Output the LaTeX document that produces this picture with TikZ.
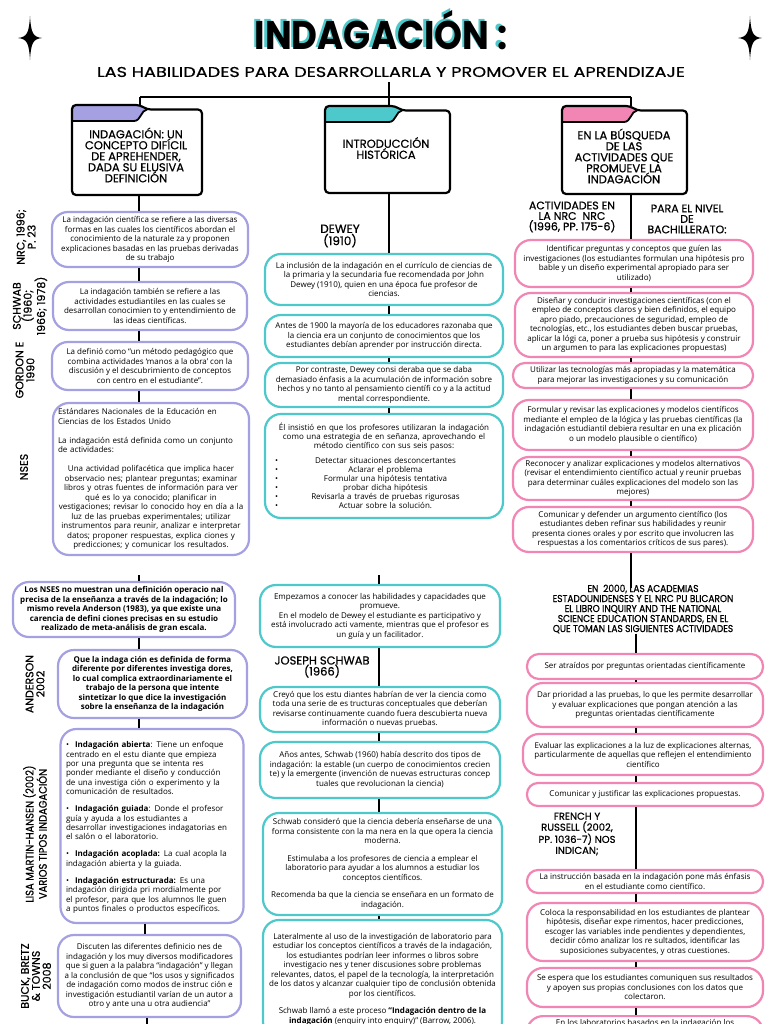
\documentclass[tikz,border=0pt]{standalone}
\usepackage{fontspec}
\usepackage{graphicx}
\setmainfont{Open Sans}
\newfontfamily\hfont[FakeBold=0.6]{Poppins}
\newfontfamily\hsfont[FakeBold=0.6,FakeStretch=0.9]{Poppins}
\newfontfamily\tfont[FakeStretch=0.89]{Poppins}
\usetikzlibrary{calc}
\definecolor{lpur}{RGB}{164,160,226}
\definecolor{tcyan}{RGB}{78,201,203}
\definecolor{ppink}{RGB}{241,134,181}
\newcommand\bodytxt{\fontsize{8}{9.5}\selectfont}
\newcommand\hdtxt{\hfont\fontsize{11}{11}\selectfont}
\newcommand\litem[1]{\par\hangindent=9pt\hangafter=1\noindent\makebox[9pt][l]{\textbullet}#1\par}
\newcommand\mstep[1]{\hbox to 226pt{\hspace{4pt}\textbullet\hfil #1\hfil\hspace{4pt}}}
% folder: x1 x2 ytop ybottom xtab colour
\newcommand\folderbox[6]{%
  \fill[#6] (#1,#3+16) [rounded corners=3pt]-- (#1,#3) -- (#5,#3) [sharp corners]-- (#5+7,#3+4.5)
     .. controls (#5+1,#3+5) and (#5+1,#3+16) .. (#5-6,#3+16) -- cycle;
  \draw[line width=2.2pt, rounded corners=4pt, line join=round] (#1,#4) -- (#1,#3) -- (#5,#3) -- (#5+7,#3+4.5) -- (#2,#3+4.5) -- (#2,#4) -- cycle;
  \draw[line width=1.8pt] (#1,#3+16) -- (#5-6,#3+16) .. controls (#5+1,#3+16) and (#5+1,#3+5) .. (#5+7,#3+4.5);
}
\begin{document}
\begin{tikzpicture}[x=1pt,y=-1pt,
  box/.style={fill=white, line width=2.2pt, rounded corners=16pt, align=center, inner sep=0pt, font=\bodytxt},
  lbox/.style={box, draw=lpur},
  mbox/.style={box, draw=tcyan},
  rbox/.style={box, draw=ppink},
  spine/.style={line width=2.6pt, black},
  hd/.style={font=\hdtxt, align=center, inner sep=0pt},
  vlab/.style={hd, rotate=90, font=\hfont\fontsize{11}{11}\selectfont},
  fhead/.style={hd, font=\hfont\fontsize{11.5}{11}\selectfont}]
\useasboundingbox (0,0) rectangle (768,1024);
\fill[white] (0,0) rectangle (768,1024);

% ---------- title ----------
\node[anchor=base, inner sep=0pt, text=tcyan] (titlesh) at (378.5,48) {\tfont\bfseries\fontsize{40}{40}\selectfont INDAGACIÓN :};
\node[anchor=base, inner sep=0pt] (title) at (381,50) {\tfont\bfseries\fontsize{40}{40}\selectfont INDAGACIÓN :};
\fill (30,16) .. controls (31,33) and (33,37) .. (42,38) .. controls (33,39) and (31,43) .. (30,60)
   .. controls (29,43) and (27,39) .. (18,38) .. controls (27,37) and (29,33) .. (30,16) -- cycle;
\fill (750,16) .. controls (751,33) and (753,37) .. (762,38) .. controls (753,39) and (751,43) .. (750,60)
   .. controls (749,43) and (747,39) .. (738,38) .. controls (747,37) and (749,33) .. (750,16) -- cycle;
\node[inner xsep=0pt, inner ysep=5pt] (sub) at (391,72) {\resizebox{588pt}{10pt}{\hfont LAS HABILIDADES PARA DESARROLLARLA Y PROMOVER EL APRENDIZAJE}};

% ---------- folders ----------
\folderbox{72}{202}{105}{195}{140}{lpur}
\folderbox{325}{450}{106}{193}{395}{tcyan}
\folderbox{562}{687}{106}{194}{630}{ppink}
\node[fhead] (f1) at (136,155) {INDAGACIÓN: UN\\CONCEPTO DIFÍCIL\\DE APREHENDER,\\DADA SU ELUSIVA\\DEFINICIÓN};
\node[fhead] (f2) at (386,148) {INTRODUCCIÓN\\HISTÓRICA};
\node[fhead] (f3) at (624,156) {EN LA BÚSQUEDA\\DE LAS\\ACTIVIDADES QUE\\PROMUEVE LA\\INDAGACIÓN};
\coordinate (f1top) at (140,105); \coordinate (f1bot) at (139,195);
\coordinate (f2top) at (389,106); \coordinate (f2bot) at (389,193);
\coordinate (f3top) at (631,106); \coordinate (f3bot) at (631,194);
\coordinate (hL) at (140,97); \coordinate (hM) at (389,97); \coordinate (hR) at (631,97);
\coordinate (xL) at (139,0); \coordinate (xL2) at (145,0);
\coordinate (xM) at (389,0); \coordinate (xM2) at (379,0);
\coordinate (xR) at (631,0); \coordinate (xR2) at (636,0);
\coordinate (pbL) at (139,575); \coordinate (pbM) at (379,575);
\coordinate (endL) at (147,1024);

% ---------- left column ----------
\node[lbox, minimum width=196pt, minimum height=55pt] (l1) at (150,239.5) {La indagación científica se refiere a las diversas\\formas en las cuales los científicos abordan el\\conocimiento de la naturale za y proponen\\explicaciones basadas en las pruebas derivadas\\de su trabajo};
\node[lbox, minimum width=194pt, minimum height=48pt] (l2) at (150,306) {La indagación también se refiere a las\\actividades estudiantiles en las cuales se\\desarrollan conocimien to y entendimiento de\\las ideas científicas.};
\node[lbox, minimum width=196pt, minimum height=48pt] (l3) at (150,366) {La definió como “un método pedagógico que\\combina actividades ‘manos a la obra’ con la\\discusión y el descubrimiento de conceptos\\con centro en el estudiante”.};
\node[lbox, minimum width=196pt, minimum height=152pt, text width=186pt, align=left] (l4) at (151,479) {Estándares Nacionales de la Educación en\\Ciencias de los Estados Unido\par\vspace{9.5pt}La indagación está definida como un conjunto\\de actividades:\par\vspace{9.5pt}{\centering Una actividad polifacética que implica hacer\\observacio nes; plantear preguntas; examinar\\libros y otras fuentes de información para ver\\qué es lo ya conocido; planificar in\\vestigaciones; revisar lo conocido hoy en día a la\\luz de las pruebas experimentales; utilizar\\instrumentos para reunir, analizar e interpretar\\datos; proponer respuestas, explica ciones y\\predicciones; y comunicar los resultados.\par}};
\node[lbox, minimum width=222pt, minimum height=55pt, font=\bodytxt\bfseries] (l5) at (124,609.5) {Los NSES no muestran una definición operacio nal\\precisa de la enseñanza a través de la indagación; lo\\mismo revela Anderson (1983), ya que existe una\\carencia de defini ciones precisas en su estudio\\realizado de meta-análisis de gran escala.};
\node[lbox, minimum width=189pt, minimum height=68pt, font=\bodytxt\bfseries] (l6) at (152.5,684) {Que la indaga ción es definida de forma\\diferente por diferentes investiga dores,\\lo cual complica extraordinariamente el\\trabajo de la persona que intente\\sintetizar lo que dice la investigación\\sobre la enseñanza de la indagación};
\node[lbox, minimum width=183pt, minimum height=194pt, text width=172pt, align=left, font=\fontsize{8}{9.3}\selectfont] (l7) at (152,826) {%
\litem{\textbf{Indagación abierta}: Tiene un enfoque\\centrado en el estu diante que empieza\\por una pregunta que se intenta res\\ponder mediante el diseño y conducción\\de una investiga ción o experimento y la\\comunicación de resultados.}\vspace{8pt}
\litem{\textbf{Indagación guiada}: Donde el profesor\\guía y ayuda a los estudiantes a\\desarrollar investigaciones indagatorias en\\el salón o el laboratorio.}\vspace{8pt}
\litem{\textbf{Indagación acoplada:} La cual acopla la\\indagación abierta y la guiada.}\vspace{8pt}
\litem{\textbf{Indagación estructurada:} Es una\\indagación dirigida pri mordialmente por\\el profesor, para que los alumnos lle guen\\a puntos finales o productos específicos.}};
\node[lbox, minimum width=183pt, minimum height=82pt] (l8) at (149.5,976) {Discuten las diferentes definicio nes de\\indagación y los muy diversos modificadores\\que si guen a la palabra “indagación” y llegan\\a la conclusión de que “los usos y significados\\de indagación como modos de instruc ción e\\investigación estudiantil varían de un autor a\\otro y ante una u otra audiencia”};

\node[vlab] (lab1) at (26,237) {NRC, 1996;\\P. 23};
\node[vlab] (lab2) at (30,306) {SCHWAB\\(1960;\\1966; 1978)};
\node[vlab] (lab3) at (25,370) {GORDON E\\1990};
\node[vlab] (lab4) at (24,467) {NSES};
\node[vlab] (lab6) at (35,684) {ANDERSON\\2002};
\node[vlab, font=\hsfont\fontsize{11}{11}\selectfont] (lab7) at (35,834) {LISA MARTIN-HANSEN (2002)\\VARIOS TIPOS INDAGACIÓN};
\node[vlab] (lab8) at (36,976) {BUCK, BRETZ\\\& TOWNS\\2008};

% ---------- middle column ----------
\node[hd, font=\hfont\fontsize{12}{11}\selectfont] (dew) at (340,236) {DEWEY\\(1910)};
\node[mbox, minimum width=238pt, minimum height=51pt] (m1) at (384,279.5) {La inclusión de la indagación en el currículo de ciencias de\\la primaria y la secundaria fue recomendada por John\\Dewey (1910), quien en una época fue profesor de\\ciencias.};
\node[mbox, minimum width=238pt, minimum height=42pt] (m2) at (384,336) {Antes de 1900 la mayoría de los educadores razonaba que\\la ciencia era un conjunto de conocimientos que los\\estudiantes debían aprender por instrucción directa.};
\node[mbox, minimum width=238pt, minimum height=44pt] (m3) at (384,385) {Por contraste, Dewey consi deraba que se daba\\demasiado énfasis a la acumulación de información sobre\\hechos y no tanto al pensamiento científi co y a la actitud\\mental correspondiente.};
\node[mbox, minimum width=238pt, minimum height=104pt, text width=226pt, align=center, font=\fontsize{8}{9}\selectfont] (m4) at (384,466) {Él insistió en que los profesores utilizaran la indagación\\como una estrategia de en señanza, aprovechando el\\método científico con sus seis pasos:\par\vspace{6pt}%
\mstep{Detectar situaciones desconcertantes}\mstep{Aclarar el problema}\mstep{Formular una hipótesis tentativa}\mstep{probar dicha hipótesis}\mstep{Revisarla a través de pruebas rigurosas}\mstep{Actuar sobre la solución.}};
\node[mbox, minimum width=240pt, minimum height=62pt] (m5) at (380,616) {Empezamos a conocer las habilidades y capacidades que\\promueve.\\En el modelo de Dewey el estudiante es participativo y\\está involucrado acti vamente, mientras que el profesor es\\un guía y un facilitador.};
\node[hd, font=\hfont\fontsize{11.5}{11}\selectfont] (jos) at (322,667) {JOSEPH SCHWAB\\(1966)};
\node[mbox, minimum width=240pt, minimum height=45pt] (m6) at (380,709.5) {Creyó que los estu diantes habrían de ver la ciencia como\\toda una serie de es tructuras conceptuales que deberían\\revisarse continuamente cuando fuera descubierta nueva\\información o nuevas pruebas.};
\node[mbox, minimum width=240pt, minimum height=56pt] (m7) at (380,770) {Años antes, Schwab (1960) había descrito dos tipos de\\indagación: la estable (un cuerpo de conocimientos crecien\\te) y la emergente (invención de nuevas estructuras concep\\tuales que revolucionan la ciencia)};
\node[mbox, minimum width=239pt, minimum height=102pt] (m8) at (382.5,864) {Schwab consideró que la ciencia debería enseñarse de una\\forma consistente con la ma nera en la que opera la ciencia\\moderna.\\[8pt]Estimulaba a los profesores de ciencia a emplear el\\laboratorio para ayudar a los alumnos a estudiar los\\conceptos científicos.\\[8pt]Recomenda ba que la ciencia se enseñara en un formato de\\indagación.};
\node[mbox, minimum width=239pt, minimum height=118pt] (m9) at (382.5,979) {Lateralmente al uso de la investigación de laboratorio para\\estudiar los conceptos científicos a través de la indagación,\\los estudiantes podrían leer informes o libros sobre\\investigacio nes y tener discusiones sobre problemas\\relevantes, datos, el papel de la tecnología, la interpretación\\de los datos y alcanzar cualquier tipo de conclusión obtenida\\por los científicos.\\[8pt]Schwab llamó a este proceso \textbf{“Indagación dentro de la}\\\textbf{indagación} (enquiry into enquiry)” (Barrow, 2006).};

% ---------- right column ----------
\node[hd, font=\hfont\fontsize{11}{10.5}\selectfont] (act) at (572,217) {ACTIVIDADES EN\\LA NRC~~NRC\\(1996, PP. 175-6)};
\node[hd, font=\hfont\fontsize{11}{10.5}\selectfont] (para) at (687,219) {PARA EL NIVEL\\DE\\BACHILLERATO:};
\node[rbox, minimum width=238pt, minimum height=47pt] (r1) at (634,263.5) {Identificar preguntas y conceptos que guíen las\\investigaciones (los estudiantes formulan una hipótesis pro\\bable y un diseño experimental apropiado para ser\\utilizado)};
\node[rbox, minimum width=238pt, minimum height=64pt] (r2) at (634,325) {Diseñar y conducir investigaciones científicas (con el\\empleo de conceptos claros y bien definidos, el equipo\\apro piado, precauciones de seguridad, empleo de\\tecnologías, etc., los estudiantes deben buscar pruebas,\\aplicar la lógi ca, poner a prueba sus hipótesis y construir\\un argumen to para las explicaciones propuestas)};
\node[rbox, minimum width=240pt, minimum height=25pt, rounded corners=12pt] (r3) at (633,375.5) {Utilizar las tecnologías más apropiadas y la matemática\\para mejorar las investigaciones y su comunicación};
\node[rbox, minimum width=240pt, minimum height=50pt] (r4) at (633,425) {Formular y revisar las explicaciones y modelos científicos\\mediante el empleo de la lógica y las pruebas científicas (la\\indagación estudiantil debiera resultar en una ex plicación\\o un modelo plausible o científico)};
\node[rbox, minimum width=240pt, minimum height=43pt] (r5) at (633,478.5) {Reconocer y analizar explicaciones y modelos alternativos\\(revisar el entendimiento científico actual y reunir pruebas\\para determinar cuáles explicaciones del modelo son las\\mejores)};
\node[rbox, minimum width=240pt, minimum height=45pt] (r6) at (633,529.5) {Comunicar y defender un argumento científico (los\\estudiantes deben refinar sus habilidades y reunir\\presenta ciones orales y por escrito que involucren las\\respuestas a los comentarios críticos de sus pares).};
\node[hd, font=\hsfont\fontsize{10}{10}\selectfont] (en2000) at (643,609) {EN~ 2000, LAS ACADEMIAS\\ESTADOUNIDENSES Y EL NRC PU BLICARON\\EL LIBRO INQUIRY AND THE NATIONAL\\SCIENCE EDUCATION STANDARDS, EN EL\\QUE TOMAN LAS SIGUIENTES ACTIVIDADES};
\node[rbox, minimum width=236pt, minimum height=25pt, rounded corners=12pt] (r7) at (645,666.5) {Ser atraídos por preguntas orientadas científicamente};
\node[rbox, minimum width=236pt, minimum height=44pt] (r8) at (645,705) {Dar prioridad a las pruebas, lo que les permite desarrollar\\y evaluar explicaciones que pongan atención a las\\preguntas orientadas científicamente};
\node[rbox, minimum width=240pt, minimum height=41pt] (r9) at (643,754.5) {Evaluar las explicaciones a la luz de explicaciones alternas,\\particularmente de aquellas que reflejen el entendimiento\\científico};
\node[rbox, minimum width=236pt, minimum height=23pt, rounded corners=11pt] (r10) at (645,794.5) {Comunicar y justificar las explicaciones propuestas.};
\node[hd, font=\hfont\fontsize{10}{11}\selectfont] (fr) at (577,834) {FRENCH Y\\RUSSELL (2002,\\PP. 1036-7) NOS\\INDICAN;};
\node[rbox, minimum width=236pt, minimum height=23pt, rounded corners=11pt] (r11) at (645,881.5) {La instrucción basada en la indagación pone más énfasis\\en el estudiante como científico.};
\node[rbox, minimum width=236pt, minimum height=58pt] (r12) at (645,932) {Coloca la responsabilidad en los estudiantes de plantear\\hipótesis, diseñar expe rimentos, hacer predicciones,\\escoger las variables inde pendientes y dependientes,\\decidir cómo analizar los re sultados, identificar las\\suposiciones subyacentes, y otras cuestiones.};
\node[rbox, minimum width=236pt, minimum height=39pt] (r13) at (645,987.5) {Se espera que los estudiantes comuniquen sus resultados\\y apoyen sus propias conclusiones con los datos que\\colectaron.};
\node[rbox, minimum width=236pt, anchor=north, text depth=24pt, inner ysep=3pt] (r14) at (645,1015) {En los laboratorios basados en la indagación los};

% ---------- connectors ----------
\begin{scope}[spine]
\draw (sub.south -| hM) -- (hM);
\draw (hL) -- (hR);
\draw (hL) -- (f1top);
\draw (hM) -- (f2top);
\draw (hR) -- (f3top);
\draw (f1bot) -- (l1.north -| f1bot);
\draw (l1.south -| xL) -- (l2.north -| xL);
\draw (l2.south -| xL) -- (l3.north -| xL);
\draw (l3.south -| xL) -- (l4.north -| xL);
\draw (pbL) -- (l5.north -| pbL);
\draw (l5.south -| xL) -- (l6.north -| xL);
\draw (l6.south -| xL) -- (l7.north -| xL);
\draw (l7.south -| xL2) -- (l8.north -| xL2);
\draw (l8.south -| endL) -- (endL);
\draw (f2bot) -- (m1.north -| f2bot);
\draw (m1.south -| xM) -- (m2.north -| xM);
\draw (m2.south -| xM) -- (m3.north -| xM);
\draw (m3.south -| xM) -- (m4.north -| xM);
\draw (pbM) -- (m5.north -| pbM);
\draw (m5.south -| xM2) -- (m6.north -| xM2);
\draw (m6.south -| xM2) -- (m7.north -| xM2);
\draw (m7.south -| xM2) -- (m8.north -| xM2);
\draw (m8.south -| xM2) -- (m9.north -| xM2);
\draw (f3bot) -- (r1.north -| f3bot);
\draw (r1.south -| xR) -- (r2.north -| xR);
\draw (r2.south -| xR) -- (r3.north -| xR);
\draw (r3.south -| xR) -- (r4.north -| xR);
\draw (r4.south -| xR) -- (r5.north -| xR);
\draw (r5.south -| xR) -- (r6.north -| xR);
\draw (r6.south -| xR) -- ($(en2000.north -| xR)+(0,4)$);
\draw (en2000.south -| xR2) -- (r7.north -| xR2);
\draw (r7.south -| xR2) -- (r8.north -| xR2);
\draw (r8.south -| xR2) -- (r9.north -| xR2);
\draw (r9.south -| xR2) -- (r10.north -| xR2);
\draw (r10.south -| xR2) -- (r11.north -| xR2);
\draw (r11.south -| xR2) -- (r12.north -| xR2);
\draw (r12.south -| xR2) -- (r13.north -| xR2);
\draw (r13.south -| xR2) -- (r14.north -| xR2);
\end{scope}
\end{tikzpicture}
\end{document}
